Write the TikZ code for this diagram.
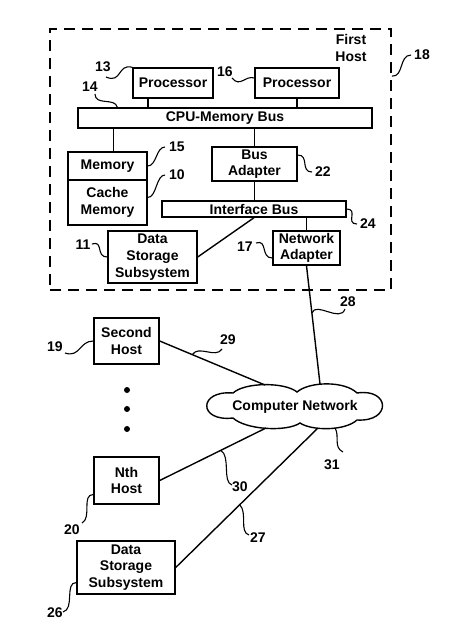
\documentclass[tikz,border=0pt]{standalone}
\usepackage{fontspec}
\setmainfont{Liberation Sans}
\usetikzlibrary{calc}

\begin{document}
\begin{tikzpicture}[x=1pt, y=-1pt, line width=1.4pt,
  every node/.style={font=\fontsize{14}{16.7}\selectfont\bfseries, align=center, inner sep=0pt},
  box/.style 2 args={draw, minimum width=#1pt, minimum height=#2pt},
  lead/.style={line width=1.1pt},
  dot/.style={circle, fill, minimum size=6pt}]
  \useasboundingbox (0,0) rectangle (474,633);
  \node[box={341}{261}, dash pattern=on 11pt off 7pt, line width=1.7pt] (host1) at (220.5,159.5) {};
  \node (fh) at (351,48) {First\\Host};
  \node[box={80}{30}] (p1) at (173,83) {Processor};
  \node[box={84}{30}] (p2) at (297,83) {Processor};
  \node[box={294}{20}] (bus) at (225,118) {CPU-Memory Bus};
  \node[box={79}{28}] (mem) at (107.5,166) {Memory};
  \node[box={79}{45}] (cache) at (107.5,202.5) {Cache\\Memory};
  \node[box={85}{34}] (ba) at (254.5,164) {Bus\\Adapter};
  \node[box={184}{16}] (ib) at (254,209) {Interface Bus};
  \node[box={89}{52}] (ds1) at (152.5,257) {Data\\Storage\\Subsystem};
  \node[box={67}{34}] (na) at (306.5,248) {Network\\Adapter};
  \node[box={65}{46}] (host2) at (126.5,341) {Second\\Host};
  \node[box={65}{47}] (hostn) at (126.5,480.5) {Nth\\Host};
  \node[box={98}{53}] (ds2) at (126,567.5) {Data\\Storage\\Subsystem};
  \node (net) at (295,407) {Computer Network};
  \begin{scope}[shift={(net.center)}]
    \draw (-62,-14) .. controls (-50,-25) and (-10,-25) .. (2,-15)
      .. controls (15,-26) and (50,-26) .. (62,-14)
      .. controls (95,-19) and (97,15) .. (62,13)
      .. controls (50,24) and (17,24) .. (5,16)
      .. controls (-8,25) and (-49,23) .. (-62,11)
      .. controls (-97,15) and (-97,-17) .. cycle;
    \coordinate (nt1) at (-30,-22);
    \coordinate (nt2) at (25,-23);
    \coordinate (nb1) at (-29,21);
    \coordinate (nb2) at (23,21);
    \coordinate (nb3) at (40,21);
  \end{scope}
  \node[dot] (d1) at (127,390) {};
  \node[dot] (d2) at (127,409) {};
  \node[dot] (d3) at (127,429) {};

  \coordinate (p1b) at ([xshift=-25pt]p1.south);
  \coordinate (memt) at ([xshift=6pt]mem.north);
  \draw (p1b) -- (p1b |- bus.north);
  \draw (p2.south) -- (p2.south |- bus.north);
  \draw (memt) -- (memt |- bus.south);
  \draw (ba.north) -- (ba.north |- bus.south);
  \draw (ba.south) -- (ba.south |- ib.north);
  \draw (ib.south) -- (ds1.east);
  \draw (na.north) -- (na.north |- ib.south);
  \draw (na.south) -- (nt2);
  \draw (host2.east) -- (nt1);
  \draw (hostn.east) -- (nb1);
  \draw (ds2.east) -- (nb2);

  \node (l13) at (103,67) {13};
  \node (l16) at (225,72) {16};
  \node (l14) at (90,87) {14};
  \node (l18) at (422,55) {18};
  \node (l15) at (177,147) {15};
  \node (l10) at (177,175) {10};
  \node (l22) at (323,172) {22};
  \node (l24) at (368,224) {24};
  \node (l11) at (83,245) {11};
  \node (l17) at (245,247) {17};
  \node (l28) at (348,302) {28};
  \node (l19) at (55,347) {19};
  \node (l29) at (228,340) {29};
  \node (l30) at (240,487) {30};
  \node (l31) at (332,465) {31};
  \node (l27) at (258,538) {27};
  \node (l20) at (72,530) {20};
  \node (l26) at (55,613) {26};
  \draw[lead] (l13) ++(3,10) .. controls +(16,7) and +(-15,-4) .. (p1.north west);
  \draw[lead] (l16) ++(7,6) .. controls +(8,10) and +(-9,-3) .. ([yshift=5pt]p2.west);
  \draw[lead] (l14) ++(5,7) .. controls +(0,12) and +(-2,-10) .. ([xshift=40pt]bus.north west);
  \draw[lead] (l18) ++(-11,0) .. controls +(-12,0) and +(12,1) .. ([yshift=-48pt]host1.north east);
  \draw[lead] (l15) ++(-12,0) .. controls +(-9,0) and +(9,0) .. (mem.east);
  \draw[lead] (l10) ++(-12,0) .. controls +(-9,0) and +(9,0) .. ([yshift=5pt]cache.east);
  \draw[lead] (l22) ++(-11,0) .. controls +(-12,0) and +(12,0) .. ([yshift=9pt]ba.east);
  \draw[lead] (l24) ++(-11,0) .. controls +(-12,0) and +(12,0) .. (ib.east);
  \draw[lead] (l11) ++(9,-1) .. controls +(12,-4) and +(-12,0) .. (ds1.west);
  \draw[lead] (l17) ++(11,-4) .. controls +(12,-4) and +(-12,0) .. ([yshift=-10pt]na.west);
  \draw[lead] (l28) ++(-3,7) .. controls +(-5,14) and +(4,-12) .. ($(na.south)!0.4!(nt2)$);
  \draw[lead] (l19) ++(10,6) .. controls +(15,5) and +(-14,0) .. (host2.west);
  \draw[lead] (l29) ++(-6,9) .. controls +(-6,10) and +(6,-10) .. ($(host2.east)!0.31!(nt1)$);
  \draw[lead] (l30) ++(-8,-2) .. controls +(-10,-3) and +(10,6) .. ($(hostn.east)!0.575!(nb1)$);
  \draw[lead] (l31) ++(11,-13) .. controls +(-10,-5) and +(5,8) .. (nb3);
  \draw[lead] (l27) ++(-9,-3) .. controls +(-10,-3) and +(8,8) .. ($(ds2.east)!0.45!(nb2)$);
  \draw[lead] (l20) ++(10,-7) .. controls +(10,-5) and +(-12,0) .. ([yshift=-14pt]hostn.west);
  \draw[lead] (l26) ++(8,-1) .. controls +(12,-3) and +(-12,0) .. ([yshift=-15pt]ds2.west);
\end{tikzpicture}
\end{document}
